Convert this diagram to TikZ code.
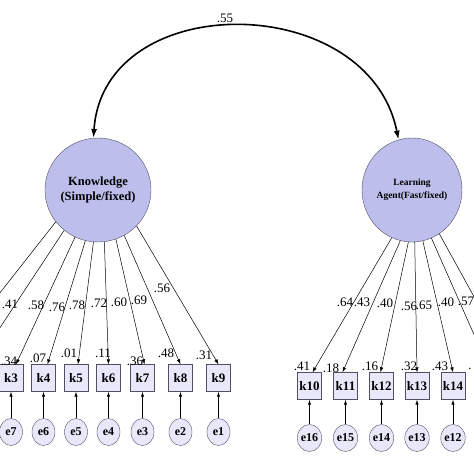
\documentclass[tikz,border=0pt]{standalone}
\usepackage{fontspec}
\setmainfont{Liberation Serif}
\usetikzlibrary{arrows.meta, shapes.geometric}
\definecolor{latfill}{RGB}{190,190,236}
\definecolor{obsfill}{RGB}{232,232,250}
\definecolor{rim}{RGB}{80,80,100}

\begin{document}
\begin{tikzpicture}[x=1pt, y=-1pt,
      latent/.style={ellipse, draw=rim, fill=latfill, minimum width=88pt, minimum height=104pt,
                     inner sep=0pt, align=center, font=\bfseries\fontsize{12.5}{15}\selectfont},
      obs/.style={rectangle, draw=rim, fill=obsfill, minimum width=24pt, minimum height=27pt,
                  inner sep=0pt, font=\bfseries\fontsize{13}{15}\selectfont},
      err/.style={ellipse, draw=rim, fill=obsfill, minimum width=23pt, minimum height=27pt,
                  inner sep=0pt, font=\bfseries\fontsize{12}{14}\selectfont},
      num/.style={inner sep=0pt, font=\fontsize{13}{15}\selectfont},
      load/.style={-{Latex[length=5pt, width=3.5pt]}, line width=0.5pt},
      res/.style={-{Latex[length=5pt, width=3.5pt]}, line width=0.8pt},
      cov/.style={{Latex[length=9pt, width=6pt]}-{Latex[length=9pt, width=6pt]}, line width=1.6pt}
    ]
    \clip (0,0) rectangle (474,474);
    \node[latent] (know) at (98,190) {Knowledge\\(Simple/fixed)};
    \node[latent, font=\bfseries\fontsize{9.5}{13}\selectfont] (learn) at (412,190) {Learning\\Agent(Fast/fixed)};
    \draw[cov] (know.95) .. controls +(10,-150) and +(-30,-150) .. (learn.105);
    \node[num] (c55) at (225,18) {.55};
    % indicators of the first factor
    \coordinate (k1) at (-56,364);
    \coordinate (k2) at (-24,364);
    \draw[load] (know.217) -- (k1);
    \draw[load] (know.230) -- (k2);
    \foreach \k/\e/\x/\a/\d in {3/7/11/244/5, 4/6/43.5/256/4, 5/5/76/265/2, 6/4/108.5/277/0,
                               7/3/142.5/290/2, 8/2/180.5/300/0, 9/1/218.5/317/0}{
      \node[obs] (k\k) at (\x,378) {k\k};
      \node[err] (e\e) at (\x,432) {e\e};
      \draw[load] (know.\a) -- ([xshift=\d pt]k\k.north);
      \draw[res] (e\e) -- (k\k);
    }
    % indicators of the second factor
    \coordinate (k15) at (491,373);
    \coordinate (k16) at (516,373);
    \draw[load] (learn.292) -- (k15);
    \draw[load] (learn.302) -- (k16);
    \foreach \k/\e/\x/\a/\d in {10/16/309.5/247/3, 11/15/345.5/257/-3, 12/14/381.5/266/-1,
                               13/13/417/273/0, 14/12/453/282/0}{
      \node[obs] (k\k) at (\x,386) {k\k};
      \node[err] (e\e) at (\x,438) {e\e};
      \draw[load] (learn.\a) -- ([xshift=\d pt]k\k.north);
      \draw[res] (e\e) -- (k\k);
    }
    % loadings
    \foreach \v/\x/\y [count=\i] in {.41/10/304, .58/36/305, .76/57/307, .78/77/305, .72/99/303,
                                     .60/119/302, .69/139/300, .56/162/288, .64/345/302, .43/362/302,
                                     .40/385/303, .56/409/306, .65/424/305, .40/446/302, .57/466/301}
      \node[num] (w\i) at (\x,\y) {\v};
    % squared multiple correlations
    \foreach \v/\x/\y [count=\i] in {.34/9/361, .07/38/358, .01/69/353, .11/103/353, .36/135/361,
                                     .48/166/353, .31/204/355, .41/302/366, .18/331/368, .16/370/366,
                                     .32/409/366, .43/440/366, ./470/369}
      \node[num] (r\i) at (\x,\y) {\v};
  \end{tikzpicture}
\end{document}
